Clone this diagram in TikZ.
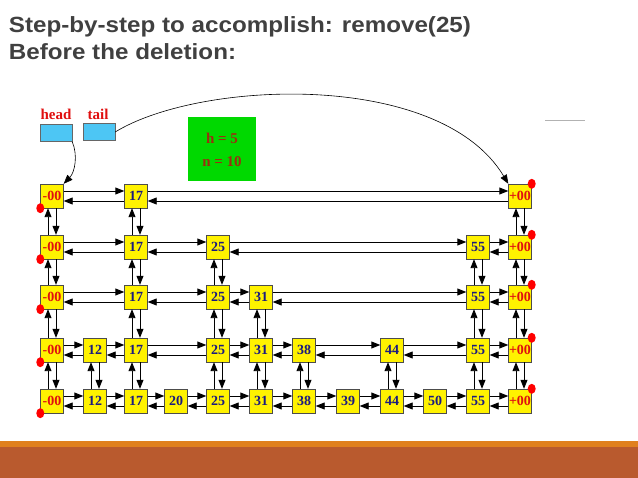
\documentclass[tikz,border=0pt]{standalone}
\usepackage{fontspec}
\setmainfont{Liberation Serif}
\newfontfamily\sansf{Liberation Sans}
\usetikzlibrary{arrows.meta}
\definecolor{ttl}{HTML}{404040}
\definecolor{numc}{HTML}{1A1A80}
\definecolor{infc}{HTML}{E01010}
\definecolor{band}{HTML}{B95A2E}
\definecolor{bandlt}{HTML}{E0801E}
\definecolor{hcol}{HTML}{9A3010}
\begin{document}
\begin{tikzpicture}[x=1pt,y=-1pt,
  box/.style={draw=black!70,fill=yellow,minimum width=23pt,minimum height=24pt,inner sep=0pt,font=\bfseries\fontsize{14}{14}\selectfont,text=numc},
  inf/.style={box,text=infc},
  ar/.style={-{Triangle[length=9pt,width=7pt]},line width=0.9pt}]
\useasboundingbox (0,0) rectangle (638,478);
\fill[bandlt] (0,441) rectangle (638,447);
\fill[band] (0,447) rectangle (638,478);
\node[anchor=west,font=\sansf\bfseries\fontsize{22}{22}\selectfont,text=ttl,xscale=1.1] (t1) at (5,27) {Step-by-step to accomplish: remove(25)};
\node[anchor=west,font=\sansf\bfseries\fontsize{22}{22}\selectfont,text=ttl,xscale=1.1] (t2) at (5,52) {Before the deletion:};
\draw[black!30] (545,120) -- (585,120);
\node[draw=black!60,fill=cyan!70,minimum width=32pt,minimum height=17pt,inner sep=0pt] (head) at (56,133) {};
\node[draw=black!60,fill=cyan!70,minimum width=32pt,minimum height=17pt,inner sep=0pt] (tail) at (99,132) {};
\node[text=infc,font=\bfseries\fontsize{15}{15}\selectfont] (hl) at (56,114) {head};
\node[text=infc,font=\bfseries\fontsize{15}{15}\selectfont] (tl) at (98,114) {tail};
\node[fill=green!85!black,minimum width=68pt,minimum height=64pt,inner sep=0pt] (hn) at (222,149) {};
\node[text=hcol,font=\bfseries\fontsize{15}{15}\selectfont] (hh) at (222,138) {h = 5};
\node[text=hcol,font=\bfseries\fontsize{15}{15}\selectfont] (nn) at (222,162) {n = 10};
\newcommand\mkrow[3]{%
  \foreach \c/\t [count=\k] in {#3}{
    \ifnum\k=1 \node[inf] (#1\c) at (\csname cx\c\endcsname,#2) {\t};
    \else \node[box] (#1\c) at (\csname cx\c\endcsname,#2) {\t};\fi}}
\expandafter\def\csname cxm\endcsname{52}
\expandafter\def\csname cxa\endcsname{95}
\expandafter\def\csname cxb\endcsname{136}
\expandafter\def\csname cxc\endcsname{176}
\expandafter\def\csname cxd\endcsname{218}
\expandafter\def\csname cxe\endcsname{261}
\expandafter\def\csname cxf\endcsname{304}
\expandafter\def\csname cxg\endcsname{348}
\expandafter\def\csname cxh\endcsname{392}
\expandafter\def\csname cxi\endcsname{435}
\expandafter\def\csname cxj\endcsname{478}
\expandafter\def\csname cxp\endcsname{520}
\mkrow{r1}{196}{m/-00,b/17}
\mkrow{r2}{247}{m/-00,b/17,d/25,j/55}
\mkrow{r3}{297}{m/-00,b/17,d/25,e/31,j/55}
\mkrow{r4}{350}{m/-00,a/12,b/17,d/25,e/31,f/38,h/44,j/55}
\mkrow{r5}{401}{m/-00,a/12,b/17,c/20,d/25,e/31,f/38,g/39,h/44,i/50,j/55}
\foreach \r/\y in {r1/196,r2/247,r3/297,r4/350,r5/401}
  \node[inf] (\r p) at (520,\y) {+00};
\newcommand\hlinks[2]{%
  \foreach \u/\v in {#2}{
    \draw[ar] ([yshift=5pt]#1\u.east) -- ([yshift=5pt]#1\v.west);
    \draw[ar] ([yshift=-5pt]#1\v.west) -- ([yshift=-5pt]#1\u.east);}}
\hlinks{r1}{m/b,b/p}
\hlinks{r2}{m/b,b/d,d/j,j/p}
\hlinks{r3}{m/b,b/d,d/e,e/j,j/p}
\hlinks{r4}{m/a,a/b,b/d,d/e,e/f,f/h,h/j,j/p}
\hlinks{r5}{m/a,a/b,b/c,c/d,d/e,e/f,f/g,g/h,h/i,i/j,j/p}
\newcommand\vlinks[3]{%
  \foreach \c in {#3}{
    \draw[ar] ([xshift=-4pt]#2\c.north) -- ([xshift=-4pt]#1\c.south);
    \draw[ar] ([xshift=4pt]#1\c.south) -- ([xshift=4pt]#2\c.north);}}
\vlinks{r1}{r2}{m,b,p}
\vlinks{r2}{r3}{m,b,d,j,p}
\vlinks{r3}{r4}{m,b,d,e,j,p}
\vlinks{r4}{r5}{m,a,b,d,e,f,h,j,p}
\foreach \r in {r1,r2,r3,r4,r5}{
  \fill[red] (\r m.south west) ellipse (4pt and 5pt);
  \fill[red] (\r p.north east) ellipse (4pt and 5pt);}
\draw[ar,line width=0.6pt] (head.south east) .. controls (78,155) and (75,172) .. (r1m.north east);
\draw[ar,line width=0.6pt] (tail.east) .. controls (200,80) and (440,70) .. (r1p.north west);
\end{tikzpicture}
\end{document}
